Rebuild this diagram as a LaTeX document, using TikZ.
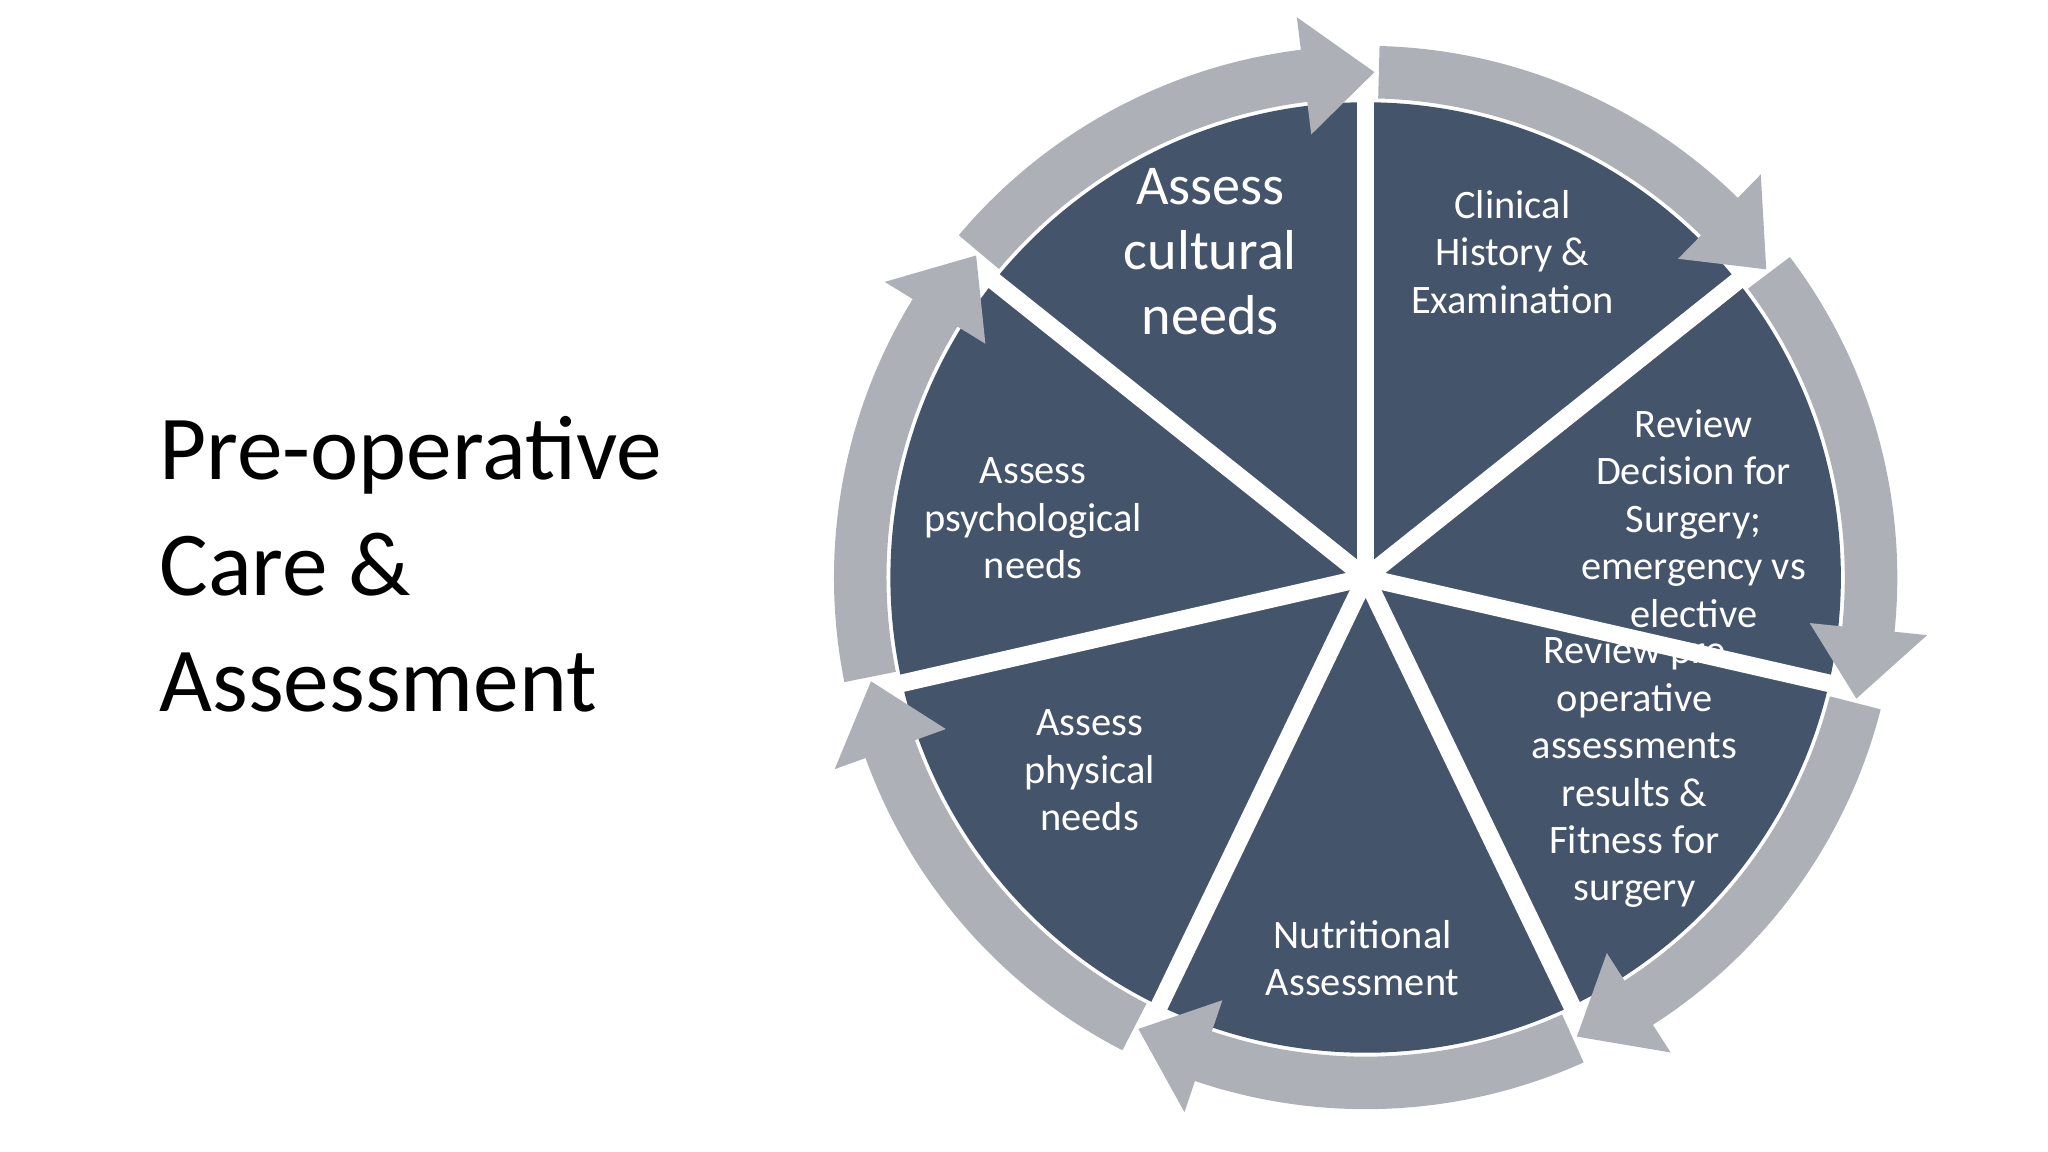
\documentclass[tikz,border=0pt]{standalone}
\usepackage{fontspec}
\setmainfont{Carlito}
\usetikzlibrary{positioning}
\definecolor{slate}{HTML}{44546A}
\definecolor{ringgrey}{HTML}{ADB0B6}
\tikzset{
  pie/.style={fill=slate},
  ring/.style={fill=ringgrey},
  divider/.style={draw=white, line width=5pt},
  steptext/.style={text=white, align=center, font=\fontsize{11.5}{13.5}\selectfont}
}
\begin{document}
\begin{tikzpicture}[scale=1.313]
	\useasboundingbox (0,0) rectangle (15.60,8.77);
	\coordinate (C) at (10.40,4.37);
	% wedges and ring arrows
	\begin{scope}[shift={(C)}]
	\fill[pie] (0,0) circle (3.62);
	\foreach \k in {0,...,6}{
		\pgfmathsetmacro{\d}{90-\k*51.43}
		\pgfmathsetmacro{\a}{\d+51.43-1.5}
		\pgfmathsetmacro{\h}{\d+7}
		\pgfmathsetmacro{\t}{\d-1}
		\fill[ring] (\a:3.65) arc[start angle=\a, end angle=\h, radius=3.65] -- (\h:3.40) -- (\t:3.85) -- (\h:4.30) -- (\h:4.05) arc[start angle=\h, end angle=\a, radius=4.05] -- cycle;
		\draw[divider] (0,0) -- (\d:3.68);
	}
	\end{scope}
	% labels
	\node[steptext, font=\fontsize{16}{18.5}\selectfont] (cultural) at (9.22,6.85) {Assess\\cultural\\needs};
	\node[steptext] (clinical) at (11.52,6.85) {Clinical\\History \&\\Examination};
	\node[steptext] (decision) at (12.90,4.82) {Review\\Decision for\\Surgery;\\emergency vs\\elective};
	\node[steptext] (fitness) at (12.45,2.89) {Review pre\\operative\\assessments\\results \&\\Fitness for\\surgery};
	\node[steptext] (nutrition) at (10.38,1.47) {Nutritional\\Assessment};
	\node[steptext] (physical) at (8.30,2.90) {Assess\\physical\\needs};
	\node[steptext] (psycho) at (7.87,4.82) {Assess\\psychological\\needs};
	\node[anchor=west, align=left, font=\fontsize{26}{33}\selectfont] (title) at (1.12,4.47) {Pre-operative\\Care \&\\Assessment};
\end{tikzpicture}
\end{document}
